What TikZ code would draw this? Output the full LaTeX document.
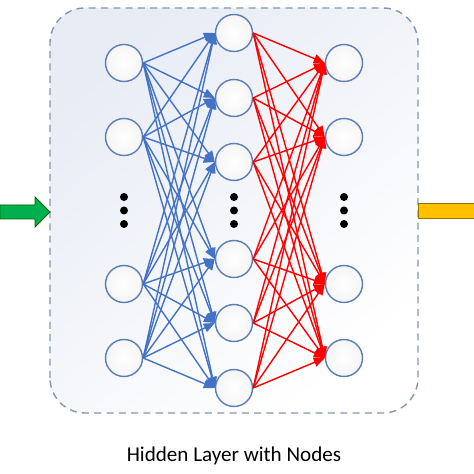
\documentclass[tikz,border=0pt]{standalone}
\usepackage{fontspec}
\setmainfont{Carlito}
\usetikzlibrary{arrows.meta}
\definecolor{lineblue}{HTML}{4472C4}
\definecolor{linered}{HTML}{FF0000}
\definecolor{circblue}{HTML}{5B7DB8}
\definecolor{boxgray}{HTML}{8497B0}
\definecolor{boxfill}{HTML}{E8ECF5}
\definecolor{arrowgreen}{HTML}{00B050}
\definecolor{bargold}{HTML}{FFC000}
\tikzset{
  neuron/.style={circle,draw=circblue,line width=0.8pt,minimum size=0.74cm,inner sep=0pt,
    shading=radial,inner color=white,outer color=black!4},
  bluelink/.style={draw=lineblue,line width=0.8pt,-{Triangle[length=2.2mm,width=1.8mm]}},
  redlink/.style={draw=linered,line width=0.8pt,-{Triangle[length=2.2mm,width=1.8mm]}}
}

\begin{document}
\begin{tikzpicture}
	% 固定画布大小
	\useasboundingbox (0,0) rectangle (9.48,9.48);
	
	% 隐藏层外框,虚线圆角矩形
	\shade[top color=boxfill,bottom color=white,shading angle=40,rounded corners=0.7cm] (1.00,1.22) rectangle (8.36,9.32);
	\draw[boxgray,dashed,line width=0.8pt,dash pattern=on 4pt off 3pt,rounded corners=0.7cm] (1.00,1.22) rectangle (8.36,9.32);
	
	% 输入箭头(绿色)
	\fill[arrowgreen,draw=black!60!green,line width=0.5pt] (0,5.10) -- (0.70,5.10) -- (0.70,4.94) -- (1.00,5.24) -- (0.70,5.54) -- (0.70,5.38) -- (0,5.38) -- cycle;
	% 输出条(橙色)
	\fill[bargold,draw=bargold!60!black,line width=0.5pt] (8.36,5.12) rectangle (9.60,5.42);
	
	% 左列节点
	\foreach \i/\y in {1/8.22,2/6.74,3/3.80,4/2.32}
		\node[neuron] (l\i) at (2.48,\y) {};
	% 中列节点
	\foreach \i/\y in {1/8.82,2/7.52,3/6.24,4/4.30,5/3.02,6/1.72}
		\node[neuron] (m\i) at (4.68,\y) {};
	% 右列节点
	\foreach \i/\y in {1/8.22,2/6.74,3/3.80,4/2.32}
		\node[neuron] (r\i) at (6.88,\y) {};
	
	% 省略号
	\foreach \x in {2.48,4.68,6.88}
		\foreach \y in {5.54,5.27,5.00}
			\fill (\x,\y) circle (0.08);
	
	% 左列到中列的连线(蓝色)
	\foreach \i in {1,...,4}
		\foreach \j in {1,...,6}
			\draw[bluelink] (l\i.east) -- (m\j.west);
	% 中列到右列的连线(红色)
	\foreach \i in {1,...,6}
		\foreach \j in {1,...,4}
			\draw[redlink] (m\i.east) -- (r\j.west);
	
	% 标题
	\node[font=\fontsize{12}{14}\selectfont] (title) at (4.68,0.36) {Hidden Layer with Nodes};
	
\end{tikzpicture}
\end{document}
